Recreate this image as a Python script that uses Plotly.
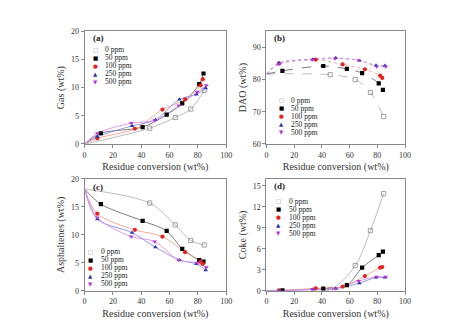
import plotly.graph_objects as go

# ---------------- data ----------------
series = ["0 ppm", "50 ppm", "100 ppm", "250 ppm", "500 ppm"]

conv_0 = [46, 64, 75, 84.5]
conv_50 = [11.5, 41, 58, 69, 81, 84]
conv_100 = [9, 35.5, 55, 71, 82, 83.5]
conv_250 = [9, 33.5, 50, 67, 79, 85.5]
conv_500 = [9, 33, 49.5, 66.5, 79.5, 86]

gas_0 = [2.8, 4.7, 6.2, 9.5]
gas_50 = [1.9, 3.0, 5.2, 7.2, 10.6, 12.5]
gas_100 = [1.0, 2.7, 6.1, 7.9, 10.4, 11.5]
gas_250 = [1.3, 3.2, 4.3, 7.9, 8.8, 9.9]
gas_500 = [1.9, 3.7, 4.2, 6.8, 9.2, 10.4]

dao_0 = [81.5, 80.0, 76.0, 68.5]
dao_50 = [82.7, 84.2, 83.3, 82.0, 78.8, 76.8]
dao_100 = [85.0, 86.2, 84.7, 83.2, 81.2, 80.5]
dao_250 = [85.1, 86.3, 86.7, 85.9, 84.4, 84.3]
dao_500 = [84.8, 86.1, 86.5, 86.0, 84.0, 84.0]

asp_0 = [15.7, 11.8, 9.0, 8.2]
asp_50 = [15.5, 12.5, 10.7, 7.5, 5.5, 5.2]
asp_100 = [13.8, 10.9, 9.7, 6.9, 5.2, 4.8]
asp_250 = [12.8, 10.4, 7.8, 5.5, 4.8, 3.7]
asp_500 = [13.1, 9.7, 8.8, 5.5, 5.0, 4.2]

coke_0 = [0.2, 3.6, 8.6, 13.9]
coke_50 = [0.05, 0.3, 0.8, 3.3, 5.1, 5.6]
coke_100 = [0.05, 0.35, 0.6, 2.1, 3.3, 3.4]
coke_250 = [0.0, 0.2, 0.3, 1.1, 1.9, 1.9]
coke_500 = [0.0, 0.2, 0.3, 1.4, 2.0, 2.0]

# value of each property for the feed (0 % conversion), start of curves
feed_gas = 0.0
feed_dao = 81.7
feed_asp = 18.2
feed_coke = 0.0

convs = [conv_0, conv_50, conv_100, conv_250, conv_500]
panels = [
    ("(a)", "Gas (wt%)", [gas_0, gas_50, gas_100, gas_250, gas_500], feed_gas, [0, 20], [0, 5, 10, 15, 20]),
    ("(b)", "DAO (wt%)", [dao_0, dao_50, dao_100, dao_250, dao_500], feed_dao, [60, 95], [60, 70, 80, 90]),
    ("(c)", "Asphaltenes (wt%)", [asp_0, asp_50, asp_100, asp_250, asp_500], feed_asp, [0, 20], [0, 5, 10, 15, 20]),
    ("(d)", "Coke (wt%)", [coke_0, coke_50, coke_100, coke_250, coke_500], feed_coke, [0, 16], [0, 3, 6, 9, 12, 15]),
]

# ---------------- styles ----------------
FONT = "Liberation Serif, Times New Roman, serif"
symbols = ["square-open", "square", "circle", "triangle-up", "triangle-down"]
glyphs = ["□", "■", "●", "▲", "▼"]
mcolors = ["#8a8a8a", "#000000", "#e3231e", "#2c3aa6", "#b33ad6"]
lcolors = ["#b4b4b4", "#6e6e6e", "#f2a08e", "#8c8ce0", "#dc8fec"]
dashes_b = ["dash", "dash", "dot", "dot", "dot"]

xdom = [[0.1772, 0.4810], [0.5675, 0.8650], [0.1772, 0.4810], [0.5675, 0.8650]]
ydom = [[0.5542, 0.9133], [0.5542, 0.9133], [0.0867, 0.4427], [0.0867, 0.4427]]

# legend placement (paper px): marker x, text x, first row y
leg_pos = [(95, 103, 47), (284, 292, 99), (90, 99, 255), (281, 290, 203)]
lab_pos = [(91, 35), (275, 35), (91, 188), (275, 187)]
W, H = 474, 323

fig = go.Figure()
annotations = []

for p, (lab, ytitle, ys, feed, yr, ytv) in enumerate(panels):
    ax = "" if p == 0 else str(p + 1)
    xref, yref = "x" + ax, "y" + ax
    for s in range(5):
        xs = [0] + convs[s]
        yv = [feed] + ys[s]
        fig.add_trace(go.Scatter(
            x=xs, y=yv, mode="lines", xaxis=xref, yaxis=yref, showlegend=False,
            line=dict(color=lcolors[s], width=0.9, shape="spline", smoothing=0.9,
                      dash=dashes_b[s] if p == 1 else "solid"),
            hoverinfo="skip"))
    for s in range(5):
        fig.add_trace(go.Scatter(
            x=convs[s], y=ys[s], mode="markers", xaxis=xref, yaxis=yref,
            name=series[s], showlegend=False,
            marker=dict(symbol=symbols[s], size=4.2, color=mcolors[s],
                        line=dict(width=0.8 if s == 0 else 0, color=mcolors[s]))))
    fig.layout["xaxis" + ax] = dict(
        domain=xdom[p], range=[0, 100], tickvals=[0, 20, 40, 60, 80, 100],
        anchor=yref, showline=True, mirror=True, linecolor="#888", linewidth=1,
        ticks="outside", ticklen=3, tickcolor="#888", showgrid=False, zeroline=False,
        tickfont=dict(family=FONT, size=8, color="#333"),
        title=dict(text="Residue conversion (wt%)", font=dict(family=FONT, size=10, color="#333"), standoff=4))
    fig.layout["yaxis" + ax] = dict(
        domain=ydom[p], range=yr, tickvals=ytv,
        anchor=xref, showline=True, mirror=True, linecolor="#888", linewidth=1,
        ticks="outside", ticklen=3, tickcolor="#888", showgrid=False, zeroline=False,
        tickfont=dict(family=FONT, size=8, color="#333"),
        title=dict(text=ytitle, font=dict(family=FONT, size=10, color="#333"), standoff=4))
    # panel label
    lx, ly = lab_pos[p]
    annotations.append(dict(text="<b>" + lab + "</b>", x=lx / W, y=1 - ly / H, xref="paper", yref="paper",
                            xanchor="left", yanchor="middle", showarrow=False,
                            font=dict(family=FONT, size=9, color="#222")))
    # legend
    mx, tx, y0 = leg_pos[p]
    for s in range(5):
        yy = 1 - (y0 + s * 8.2) / H
        annotations.append(dict(text=glyphs[s], x=mx / W, y=yy, xref="paper", yref="paper",
                                xanchor="center", yanchor="middle", showarrow=False,
                                font=dict(family="DejaVu Sans", size=5.5, color=mcolors[s])))
        annotations.append(dict(text=series[s], x=tx / W, y=yy, xref="paper", yref="paper",
                                xanchor="left", yanchor="middle", showarrow=False,
                                font=dict(family=FONT, size=7.5, color="#222")))

fig.update_layout(width=W, height=H, autosize=False, margin=dict(l=0, r=0, t=0, b=0),
                  paper_bgcolor="white", plot_bgcolor="white", showlegend=False,
                  annotations=annotations)

fig.write_html("out.html")
